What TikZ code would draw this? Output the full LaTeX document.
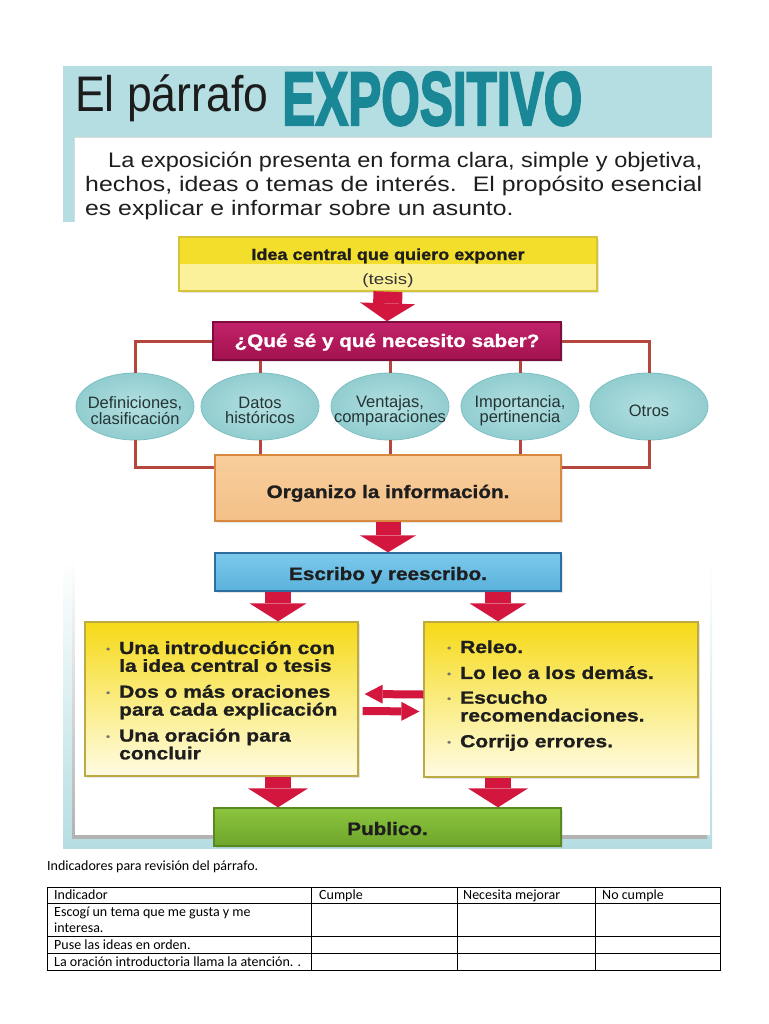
\documentclass[tikz,border=0pt]{standalone}
\usepackage{fontspec}
\setmainfont{Liberation Sans}
\newfontfamily\tabfont{Carlito}
\newfontfamily\expfont{Liberation Sans}[BoldFeatures={FakeBold=3}]
\newfontfamily\labfont{Liberation Sans}[BoldFeatures={FakeBold=1}]
\usepackage{graphicx}
\usetikzlibrary{shapes.geometric,arrows.meta,calc,shadows}
\definecolor{tealbg}{HTML}{B5DEE2}
\definecolor{titledark}{HTML}{1C1C1C}
\definecolor{exptxt}{HTML}{1A8797}
\definecolor{partxt}{HTML}{1E1E1E}
\definecolor{ideatop}{HTML}{F3DE2C}
\definecolor{ideabot}{HTML}{FBF19B}
\definecolor{ideabd}{HTML}{D7C339}
\definecolor{magtop}{HTML}{C2226A}
\definecolor{magbot}{HTML}{A3124E}
\definecolor{magbd}{HTML}{7E0C3C}
\definecolor{redline}{HTML}{B4463E}
\definecolor{ellin}{HTML}{B3E0E1}
\definecolor{ellout}{HTML}{92CDD0}
\definecolor{ellbd}{HTML}{7CBFC2}
\definecolor{elltxt}{HTML}{253535}
\definecolor{orgtop}{HTML}{F8CE9C}
\definecolor{orgbot}{HTML}{F4C088}
\definecolor{orgbd}{HTML}{D8883F}
\definecolor{blutop}{HTML}{7DC9EC}
\definecolor{blubot}{HTML}{5AB2DC}
\definecolor{blubd}{HTML}{2E6E9E}
\definecolor{arrowred}{HTML}{D3163E}
\definecolor{ybright}{HTML}{F6D917}
\definecolor{ymid}{HTML}{FAEC80}
\definecolor{ypale}{HTML}{FFFBE3}
\definecolor{ybd}{HTML}{BCAA45}
\definecolor{grntop}{HTML}{8CC53E}
\definecolor{grnbot}{HTML}{6EA52B}
\definecolor{grnbd}{HTML}{5A8A1F}
\definecolor{labtxt}{HTML}{1E1E1E}
\newcommand\bul{\textcolor{black!55}{\raisebox{2pt}{\fontsize{9}{9}\selectfont\textbullet}}}
\newcommand\wx[1]{\scalebox{1.15}[1]{#1}}
\begin{document}
\begin{tikzpicture}[x=1pt,y=-1pt,
  box/.style={rectangle, line width=1.3pt, inner sep=0pt},
  shad/.style={drop shadow={opacity=0.2,shadow xshift=2pt,shadow yshift=-2pt}},
  lab/.style={anchor=base, inner sep=0pt, text=labtxt, font=\labfont\fontsize{18}{18}\selectfont\bfseries},
  ell/.style={ellipse, draw=ellbd, line width=0.8pt, inner color=ellin, outer color=ellout, minimum width=118pt, minimum height=67pt, inner sep=0pt},
  etxt/.style={align=center, inner sep=0pt, text=elltxt, font=\fontsize{16.5}{15.5}\selectfont},
  conn/.style={draw=redline, line width=3pt},
  barrow/.style={draw=arrowred, line width=26pt, -{Triangle[length=18pt,width=57pt,line width=0pt]}},
  sarrow/.style={draw=arrowred, line width=8pt, -{Triangle[length=18pt,width=19pt,line width=0pt]}},
  para/.style={anchor=base west, inner sep=0pt, text=partxt, font=\fontsize{21}{24}\selectfont},
  btxt/.style={anchor=base west, inner sep=0pt, text=labtxt, font=\labfont\fontsize{17.5}{17}\selectfont\bfseries},
  tabtxt/.style={anchor=base west, inner sep=0pt, text=black, font=\tabfont\fontsize{14}{16}\selectfont},
  tabline/.style={draw=black, line width=0.8pt}
]
\useasboundingbox (0,0) rectangle (768,1024);
\fill[white] (0,0) rectangle (768,1024);
% header background
\fill[tealbg] (63,66) rectangle (712,222);
\fill[black!15] (74,137) rectangle (712,222);
\fill[white] (75,138) rectangle (712,222);
% lower background fade and panel
\fill[top color=white,bottom color=tealbg] (63,560) rectangle (712,848);
\fill[top color=white,bottom color=black!30] (72,560) rectangle (707,838);
\fill[white] (75,222) rectangle (710,835);

% title
\node[anchor=base west, inner sep=0pt, text=titledark] (t1) at (75,112)
  {\resizebox{193pt}{\height}{\fontsize{50}{50}\selectfont El párrafo}};
\node[anchor=base west, inner sep=0pt, text=exptxt] (t2) at (282,125)
  {\resizebox{300pt}{53pt}{\expfont\fontsize{74}{74}\selectfont\bfseries EXPOSITIVO}};

% paragraph
\node[para] (p1) at (108,168) {\resizebox{594pt}{\height}{La exposición presenta en forma clara, simple y objetiva,}};
\node[para] (p2) at (85,192) {\resizebox{617pt}{\height}{hechos, ideas o temas de interés.~ El propósito esencial}};
\node[para] (p3) at (85,215) {\scalebox{1.18}[1]{es explicar e informar sobre un asunto.}};

% boxes
\node[box, shad, draw=ideabd, fill=ideabot, minimum width=418pt, minimum height=54pt,
  path picture={\fill[ideatop] (path picture bounding box.north west) rectangle (path picture bounding box.east);}] (idea) at (388,264) {};
\node[lab, font=\labfont\fontsize{16}{16}\selectfont\bfseries] (ideat1) at (388,260) {\scalebox{1.13}[1]{Idea central que quiero exponer}};
\node[lab, font=\fontsize{15}{15}\selectfont, text=black!80] (ideat2) at (388,284) {\scalebox{1.25}[1]{(tesis)}};

\node[box, shad, draw=magbd, top color=magtop, bottom color=magbot, minimum width=348pt, minimum height=38pt] (que) at (387,341) {};
\node[lab, text=white] (quet) at (387,347) {\wx{¿Qué sé y qué necesito saber?}};

\node[ell] (e1) at (135,406.5) {};
\node[ell] (e2) at (260,406.5) {};
\node[ell] (e3) at (390,406.5) {};
\node[ell] (e4) at (520,406.5) {};
\node[ell] (e5) at (649,406.5) {};
\node[etxt] (e1t) at ($(e1)+(0,4)$) {Definiciones,\\clasificación};
\node[etxt] (e2t) at ($(e2)+(0,4)$) {Datos\\históricos};
\node[etxt] (e3t) at ($(e3)+(0,4)$) {Ventajas,\\comparaciones};
\node[etxt] (e4t) at ($(e4)+(0,4)$) {Importancia,\\pertinencia};
\node[etxt] (e5t) at ($(e5)+(0,4)$) {Otros};

\node[box, shad, draw=orgbd, top color=orgtop, bottom color=orgbot, minimum width=346pt, minimum height=66pt] (org) at (388,488) {};
\node[lab] (orgt) at (388,498) {\wx{Organizo la información.}};

\node[box, shad, draw=blubd, top color=blutop, bottom color=blubot, minimum width=346pt, minimum height=38pt] (esc) at (388,572) {};
\node[lab] (esct) at (388,580) {\wx{Escribo y reescribo.}};

\node[box, shad, draw=ybd, top color=ybright, bottom color=ypale, middle color=ymid, minimum width=273pt, minimum height=154pt] (lb) at (221.5,699) {};
\node[box, shad, draw=ybd, top color=ybright, bottom color=ypale, middle color=ymid, minimum width=274pt, minimum height=155pt] (rb) at (561,699.5) {};

\node[btxt] (lbt) at (106,654) {\scalebox{1.2}[1]{\begin{tabular}[t]{@{}p{10.8pt}@{}l@{}}
\bul & Una introducción con\\
 & la idea central o tesis\\[8pt]
\bul & Dos o más oraciones\\
 & para cada explicación\\[8pt]
\bul & Una oración para\\
 & concluir
\end{tabular}}};
\node[btxt] (rbt) at (447,653) {\scalebox{1.2}[1]{\begin{tabular}[t]{@{}p{10.8pt}@{}l@{}}
\bul & Releo.\\[8pt]
\bul & Lo leo a los demás.\\[7pt]
\bul & Escucho\\
 & recomendaciones.\\[8pt]
\bul & Corrijo errores.
\end{tabular}}};

\node[box, shad, draw=grnbd, top color=grntop, bottom color=grnbot, minimum width=347pt, minimum height=38pt] (pub) at (387.5,827) {};
\node[lab] (pubt) at (387.5,835) {\wx{Publico.}};

% connectors
\draw[conn] (que.west) -| (e1.north);
\draw[conn] (e1.south) |- ($(org.north west)+(0,13)$);
\draw[conn] (que.east) -| (e5.north);
\draw[conn] (e5.south) |- ($(org.north east)+(0,13)$);
\foreach \e in {e2,e3,e4}{
  \draw[conn] (\e.north) -- (\e.north |- que.south);
  \draw[conn] (\e.south) -- (\e.south |- org.north);
}

% block arrows
\draw[barrow, line width=29pt, -{Triangle[length=18pt,width=55pt,line width=0pt]}] (idea.south) -- (que.north);
\draw[barrow, line width=25pt, -{Triangle[length=17pt,width=56pt,line width=0pt]}] (org.south) -- (esc.north);
\coordinate (la) at ($(esc.south)+(-110,0)$);
\coordinate (ra) at ($(esc.south)+(110,0)$);
\draw[barrow] (la) -- (la |- lb.north);
\draw[barrow] (ra) -- (ra |- rb.north);
\draw[barrow, -{Triangle[length=19pt,width=60pt,line width=0pt]}] (la |- lb.south) -- (la |- pub.north);
\draw[barrow, -{Triangle[length=19pt,width=60pt,line width=0pt]}] (ra |- rb.south) -- (ra |- pub.north);
\draw[sarrow] ($(rb.west)+(0,-5)$) -- ($(lb.east)+(6,-5)$);
\draw[sarrow] ($(lb.east)+(4,12)$) -- ($(rb.west)+(-4,12)$);

% table
\node[tabtxt] (tcap) at (47,870) {Indicadores para revisión del párrafo.};
\draw[tabline] (47,887) rectangle (720,970);
\draw[tabline] (47,903) -- (720,903);
\draw[tabline] (47,936) -- (720,936);
\draw[tabline] (47,953) -- (720,953);
\draw[tabline] (311,887) -- (311,970);
\draw[tabline] (457,887) -- (457,970);
\draw[tabline] (595,887) -- (595,970);
\node[tabtxt] (h1) at (54,899) {Indicador};
\node[tabtxt] (h2) at (319,899) {Cumple};
\node[tabtxt] (h3) at (463,899) {Necesita mejorar};
\node[tabtxt] (h4) at (602,899) {No cumple};
\node[tabtxt] (r1a) at (54,916) {Escogí un tema que me gusta y me};
\node[tabtxt] (r1b) at (54,932) {interesa.};
\node[tabtxt] (r2) at (54,949) {Puse las ideas en orden.};
\node[tabtxt] (r3) at (54,966) {La oración introductoria llama la atención. .};
\end{tikzpicture}
\end{document}
